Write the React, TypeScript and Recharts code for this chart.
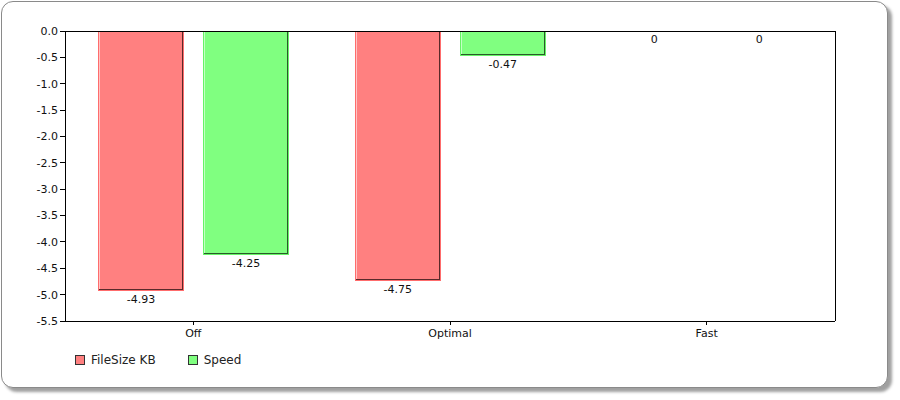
import React from 'react';
import { BarChart, Bar, XAxis, YAxis, ReferenceLine, Legend } from 'recharts';

const categories = ['Off', 'Optimal', 'Fast'];
const fileSizeKB = [-4.93, -4.75, 0];
const speed = [-4.25, -0.47, 0];
const yTicks = [0, -0.5, -1, -1.5, -2, -2.5, -3, -3.5, -4, -4.5, -5, -5.5];

const data = categories.map((c, i) => ({ name: c, fileSize: fileSizeKB[i], speed: speed[i] }));

const FONT = '"DejaVu Sans", sans-serif';

const styles: Record<string, { fill: string; outer: string; light: string; dark: string }> = {
  fileSize: { fill: '#FF8080', outer: '#FF6c6c', light: '#FFC4C4', dark: '#5a2a2a' },
  speed: { fill: '#80FF80', outer: '#66F466', light: '#C4FFC4', dark: '#2a5a2a' },
};

const makeShape = (key: string) => (props: any) => {
  const { x, y, width, height } = props;
  if (!height || Math.abs(height) < 0.5) return <g />;
  const top = height < 0 ? y + height : y;
  const h = Math.abs(height);
  const s = styles[key];
  const l = Math.round(x);
  const r = Math.round(x + width);
  const t = Math.round(top);
  const b = Math.round(top + h);
  return (
    <g shapeRendering="crispEdges">
      <rect x={l + 0.5} y={t + 0.5} width={r - l - 1} height={b - t - 1} fill={s.fill} stroke={s.outer} strokeWidth={1} />
      <line x1={l + 1.5} y1={t + 1} x2={l + 1.5} y2={b - 1} stroke={s.light} strokeWidth={1} />
      <line x1={r - 1.5} y1={t + 1} x2={r - 1.5} y2={b - 1} stroke={s.dark} strokeWidth={1} />
      <line x1={l + 1} y1={b - 1.5} x2={r - 1} y2={b - 1.5} stroke={s.dark} strokeWidth={1} />
    </g>
  );
};

const ValueLabel = (props: any) => {
  const { x, y, width, height, value } = props;
  const bottom = Math.max(y, y + (height || 0));
  return (
    <text x={x + width / 2} y={bottom + 12} textAnchor="middle" fontSize={11} fontFamily={FONT} fill="#111">
      {String(value)}
    </text>
  );
};

const legendItems = [
  { label: 'FileSize KB', key: 'fileSize' },
  { label: 'Speed', key: 'speed' },
];

const LegendContent = () => (
  <div style={{ display: 'flex', alignItems: 'center', fontFamily: FONT, fontSize: 12, color: '#222' }}>
    {legendItems.map((it) => (
      <div key={it.key} style={{ display: 'flex', alignItems: 'center', marginRight: 32 }}>
        <span
          style={{
            display: 'inline-block',
            width: 8,
            height: 8,
            background: styles[it.key].fill,
            border: '1px solid #333',
            marginRight: 6,
          }}
        />
        <span>{it.label}</span>
      </div>
    ))}
  </div>
);

const crisp = { stroke: '#000', shapeRendering: 'crispEdges' } as any;

export default function App() {
  return (
    <div style={{ position: 'absolute', left: 0, top: 0, width: 900, height: 400, background: '#fff' }}>
      <div
        style={{
          position: 'absolute',
          left: 1,
          top: 1,
          width: 885,
          height: 385,
          border: '1px solid #8a8a8a',
          borderRadius: 12,
          boxShadow: '4px 4px 3px #a0a0a0',
          background: '#fff',
        }}
      />
      <div style={{ position: 'absolute', left: 0, top: 0 }}>
        <BarChart
          width={900}
          height={400}
          data={data}
          margin={{ top: 31, right: 64, bottom: 49, left: 0 }}
          barSize={86}
          barGap={19}
          style={{ fontFamily: FONT }}
        >
          <XAxis
            dataKey="name"
            height={30}
            tickSize={4}
            tickMargin={4}
            axisLine={crisp}
            tickLine={crisp}
            tick={{ fontSize: 11, fill: '#111', fontFamily: FONT }}
          />
          <YAxis
            width={65}
            domain={[-5.5, 0]}
            ticks={yTicks}
            interval={0}
            tickFormatter={(v: number) => v.toFixed(1)}
            tickSize={5}
            tickMargin={2}
            axisLine={crisp}
            tickLine={crisp}
            tick={{ fontSize: 11, fill: '#111', fontFamily: FONT }}
          />
          <YAxis
            yAxisId="right"
            orientation="right"
            width={1}
            domain={[-5.5, 0]}
            tick={false}
            tickLine={false}
            axisLine={crisp}
          />
          <ReferenceLine y={0} stroke="#000" strokeWidth={1} shapeRendering="crispEdges" />
          <Legend
            layout="horizontal"
            verticalAlign="middle"
            align="center"
            content={<LegendContent />}
            wrapperStyle={{ top: 353, left: 75, width: 'auto', height: 'auto' }}
          />
          <Bar dataKey="fileSize" name="FileSize KB" fill="#FF8080" shape={makeShape('fileSize')} label={<ValueLabel />} isAnimationActive={false} />
          <Bar dataKey="speed" name="Speed" fill="#80FF80" shape={makeShape('speed')} label={<ValueLabel />} isAnimationActive={false} />
        </BarChart>
      </div>
    </div>
  );
}
